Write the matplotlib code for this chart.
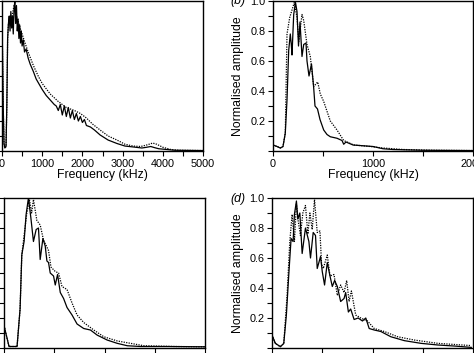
import matplotlib
matplotlib.use("Agg")
import matplotlib.pyplot as plt
from matplotlib.ticker import MultipleLocator, FormatStrFormatter

plt.rcParams['font.family'] = ['Liberation Sans', 'DejaVu Sans']

# panel (a): 0-5000 kHz
fa_solid = [0, 30, 50, 70, 100, 120, 140, 160, 180, 200, 220, 240, 260, 280, 300, 320,
            340, 360, 380, 400, 420, 440, 460, 480, 500, 530, 560, 600, 650, 700, 780,
            850, 1000, 1100, 1200, 1300, 1350, 1400, 1450, 1500, 1550, 1600, 1650, 1700,
            1750, 1800, 1850, 1900, 1950, 2000, 2050, 2100, 2200, 2300, 2440, 2640, 2860,
            3060, 3260, 3480, 3600, 3700, 3800, 3900, 4100, 4300, 5000]
a_solid = [0.9, 0.3, 0.05, 0.02, 0.03, 0.3, 0.75, 0.85, 0.9, 0.8, 0.93, 0.82, 0.9, 0.78,
           0.95, 1.0, 0.85, 0.97, 0.8, 0.88, 0.75, 0.84, 0.72, 0.8, 0.7, 0.74, 0.66, 0.68,
           0.62, 0.58, 0.53, 0.48, 0.41, 0.37, 0.34, 0.31, 0.3, 0.27, 0.31, 0.24, 0.3, 0.23,
           0.29, 0.22, 0.27, 0.21, 0.25, 0.2, 0.23, 0.19, 0.21, 0.17, 0.16, 0.14, 0.107,
           0.073, 0.05, 0.033, 0.027, 0.02, 0.025, 0.03, 0.022, 0.015, 0.01, 0.005, 0.003]
fa_dot = [0, 30, 50, 70, 100, 120, 140, 160, 200, 250, 300, 330, 360, 400, 450, 500, 560,
          650, 780, 900, 1000, 1200, 1400, 1600, 1800, 1950, 2100, 2250, 2440, 2640, 2860,
          3060, 3260, 3450, 3600, 3750, 3850, 4000, 4200, 4400, 5000]
a_dot = [0.9, 0.3, 0.05, 0.02, 0.03, 0.3, 0.75, 0.85, 0.88, 0.9, 0.97, 0.95, 0.9, 0.87,
         0.82, 0.78, 0.73, 0.66, 0.57, 0.5, 0.45, 0.38, 0.33, 0.29, 0.27, 0.25, 0.22, 0.18,
         0.14, 0.1, 0.073, 0.045, 0.033, 0.03, 0.04, 0.053, 0.045, 0.025, 0.01, 0.005, 0.003]

# panel (b): 0-2000 kHz
fb_solid = [0, 40, 73, 100, 123, 140, 157, 173, 183, 190, 207, 225, 240, 255, 270, 290,
            307, 330, 340, 360, 385, 407, 420, 445, 470, 507, 540, 573, 640, 690, 707, 730,
            800, 900, 1000, 1100, 1200, 1500, 2000]
b_solid = [0.04, 0.03, 0.02, 0.03, 0.12, 0.34, 0.67, 0.78, 0.71, 0.64, 0.91, 0.99, 0.93,
           0.7, 0.86, 0.63, 0.71, 0.72, 0.6, 0.5, 0.58, 0.42, 0.3, 0.28, 0.21, 0.14, 0.11,
           0.095, 0.085, 0.07, 0.045, 0.06, 0.04, 0.035, 0.03, 0.015, 0.01, 0.005, 0.003]
fb_dot = [0, 40, 73, 100, 123, 140, 167, 190, 213, 240, 257, 290, 307, 340, 373, 407, 447,
          473, 507, 573, 640, 707, 807, 973, 1100, 1300, 1600, 2000]
b_dot = [0.04, 0.03, 0.02, 0.03, 0.12, 0.78, 0.89, 0.94, 0.99, 0.89, 0.73, 0.91, 0.87,
         0.71, 0.63, 0.43, 0.46, 0.38, 0.33, 0.2, 0.14, 0.07, 0.04, 0.03, 0.02, 0.01, 0.005,
         0.003]

# panel (c)
fc_solid = [0, 50, 90, 130, 160, 177, 200, 220, 243, 267, 293, 320, 343, 360, 387, 410,
            427, 443, 460, 493, 510, 533, 560, 593, 627, 677, 727, 793, 860, 927, 1027,
            1127, 1227, 1360, 1627, 2000]
c_solid = [0.15, 0.01, 0.01, 0.01, 0.26, 0.62, 0.71, 0.89, 1.0, 0.87, 0.71, 0.79, 0.8,
           0.59, 0.73, 0.68, 0.58, 0.57, 0.5, 0.48, 0.42, 0.49, 0.37, 0.33, 0.27, 0.22,
           0.16, 0.13, 0.12, 0.086, 0.053, 0.031, 0.015, 0.01, 0.01, 0.008]
fc_dot = [0, 50, 90, 130, 160, 177, 200, 227, 253, 275, 293, 327, 360, 393, 443, 467, 510,
          543, 577, 627, 677, 727, 793, 893, 993, 1127, 1260, 1393, 1700, 2000]
c_dot = [0.15, 0.01, 0.01, 0.01, 0.26, 0.62, 0.75, 0.9, 0.99, 0.9, 0.99, 0.85, 0.82, 0.72,
         0.65, 0.54, 0.51, 0.5, 0.41, 0.39, 0.3, 0.22, 0.17, 0.12, 0.075, 0.047, 0.031,
         0.015, 0.01, 0.008]

# panel (d)
fd_solid = [0, 33, 83, 117, 143, 167, 190, 210, 223, 243, 257, 277, 300, 333, 367, 383,
            410, 433, 450, 483, 500, 523, 550, 577, 600, 623, 650, 683, 717, 733, 760, 783,
            817, 857, 900, 933, 967, 1017, 1083, 1183, 1317, 1483, 1650, 1817, 1983]
d_solid = [0.087, 0.031, 0.009, 0.03, 0.22, 0.49, 0.73, 0.71, 0.89, 0.98, 0.86, 0.9, 0.63,
           0.8, 0.71, 0.6, 0.77, 0.75, 0.53, 0.61, 0.51, 0.42, 0.57, 0.48, 0.41, 0.45,
           0.41, 0.31, 0.33, 0.37, 0.24, 0.26, 0.19, 0.2, 0.18, 0.2, 0.13, 0.12, 0.11,
           0.075, 0.049, 0.031, 0.02, 0.013, 0.004]
fd_dot = [0, 33, 83, 117, 150, 177, 200, 223, 243, 260, 283, 307, 333, 357, 377, 400, 423,
          450, 477, 493, 510, 550, 577, 617, 650, 683, 717, 743, 767, 790, 833, 883, 950,
          1017, 1117, 1250, 1417, 1650, 1983]
d_dot = [0.087, 0.031, 0.009, 0.03, 0.35, 0.71, 0.89, 0.71, 0.96, 0.85, 0.75, 0.9, 0.95,
         0.76, 0.9, 0.79, 0.99, 0.77, 0.78, 0.56, 0.53, 0.62, 0.48, 0.49, 0.35, 0.42, 0.37,
         0.45, 0.31, 0.38, 0.22, 0.2, 0.18, 0.13, 0.11, 0.075, 0.053, 0.031, 0.016]

W, H = 474, 353
fig = plt.figure(figsize=(W / 100, H / 100), dpi=100)


def px_axes(x0, y0, x1, y1):
    # axes from pixel box (top-left origin)
    return fig.add_axes([x0 / W, 1 - y1 / H, (x1 - x0) / W, (y1 - y0) / H])


def style(ax, xmax, xmajor, xlabels=True, ylabels=True):
    ax.set_xlim(0, xmax)
    ax.set_ylim(0, 1.0)
    ax.xaxis.set_major_locator(MultipleLocator(xmajor))
    ax.xaxis.set_minor_locator(MultipleLocator(500))
    ax.yaxis.set_major_locator(MultipleLocator(0.2))
    ax.yaxis.set_minor_locator(MultipleLocator(0.1))
    ax.yaxis.set_major_formatter(FormatStrFormatter('%.1f'))
    ax.tick_params(which='both', direction='out', length=3.5, width=0.8,
                   labelsize=7.8, pad=2, top=False, right=False)
    ax.tick_params(labelbottom=xlabels, labelleft=ylabels)
    if ylabels:
        ax.set_yticks([0.2, 0.4, 0.6, 0.8, 1.0])
    for s in ax.spines.values():
        s.set_linewidth(1.0)


def draw(ax, fs, ys, fd, yd):
    ax.plot(fs, ys, color='black', lw=0.9)
    ax.plot(fd, yd, color='black', lw=0.9, ls=(0, (1, 1)))


ax_a = px_axes(2, 1, 203, 151)
draw(ax_a, fa_solid, a_solid, fa_dot, a_dot)
style(ax_a, 5000, 1000, ylabels=False)
ax_a.set_xlabel('Frequency (kHz)', fontsize=8.8, labelpad=0)

ax_b = px_axes(273, 1, 473, 151)
draw(ax_b, fb_solid, b_solid, fb_dot, b_dot)
style(ax_b, 2000, 1000)
ax_b.set_xlabel('Frequency (kHz)', fontsize=8.8, labelpad=0)
ax_b.set_ylabel('Normalised amplitude', fontsize=8.8)
ax_b.yaxis.set_label_coords(-29 / 200, 0.5)

ax_c = px_axes(4, 198, 205, 348)
draw(ax_c, fc_solid, c_solid, fc_dot, c_dot)
style(ax_c, 2000, 500, xlabels=False, ylabels=False)

ax_d = px_axes(272, 198, 473, 348)
draw(ax_d, fd_solid, d_solid, fd_dot, d_dot)
style(ax_d, 2000, 500, xlabels=False)
ax_d.set_ylabel('Normalised amplitude', fontsize=8.8)
ax_d.yaxis.set_label_coords(-28 / 201, 0.5)

fig.text(238 / W, 1 - 1 / H, '(b)', fontsize=8.8, style='italic', ha='center', va='center')
fig.text(238 / W, 1 - 199 / H, '(d)', fontsize=8.8, style='italic', ha='center', va='center')

fig.savefig('out.png', dpi=100)
